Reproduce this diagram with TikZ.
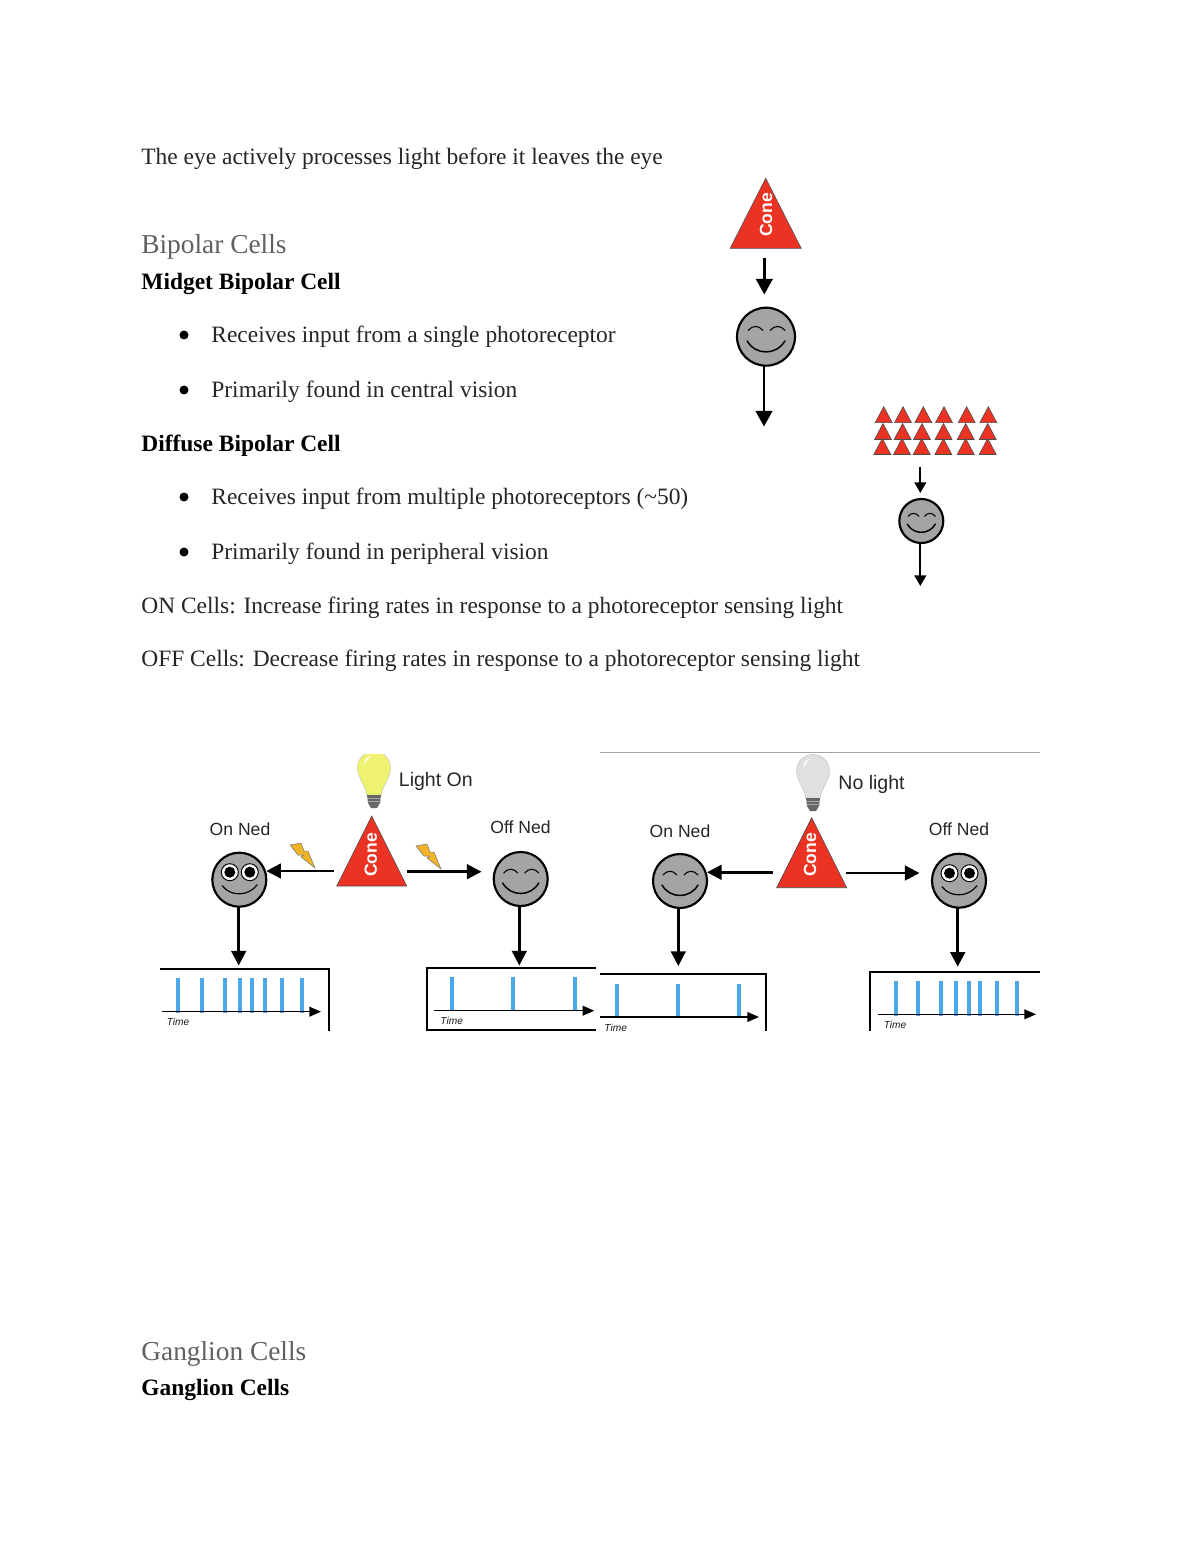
\documentclass[tikz,border=0pt]{standalone}
\usepackage{fontspec}
\setmainfont{Liberation Serif}
\newfontfamily\arialf{Liberation Sans}
\usetikzlibrary{arrows.meta,shapes.geometric}
\def\pxu{0.51bp}
\definecolor{conered}{HTML}{EA3323}
\definecolor{facegray}{HTML}{A4A4A4}
\definecolor{spikeblue}{HTML}{4AA8E8}
\definecolor{headgray}{HTML}{606060}
\definecolor{boltyellow}{HTML}{F0B429}
\definecolor{lampyellow}{HTML}{EEF26E}
\tikzset{
  bodytext/.style={anchor=base west,inner sep=0pt,yshift=-0.75pt,font=\fontsize{12}{14}\selectfont,text=black!85},
  boldtext/.style={bodytext,font=\fontsize{12}{14}\selectfont\bfseries,text=black},
  headtext/.style={bodytext,font=\fontsize{14}{16}\selectfont,text=headgray},
  dotmark/.style={circle,fill=black,inner sep=0pt,minimum size=9*\pxu},
  label/.style={inner sep=0pt,font=\arialf\fontsize{9}{11}\selectfont,text=black!85},
  lamplabel/.style={inner sep=0pt,anchor=west,font=\arialf\fontsize{10}{12}\selectfont,text=black!85},
  timetext/.style={inner sep=0pt,font=\arialf\itshape\fontsize{5.2}{6}\selectfont,text=black!90},
  conetext/.style={inner sep=0pt,rotate=90,text=white,font=\arialf\bfseries\fontsize{9}{11}\selectfont},
  conebox/.style 2 args={isosceles triangle,isosceles triangle stretches=true,shape border rotate=90,
     draw=black!70,line width=0.3pt,fill=conered,inner sep=0pt,outer sep=0pt,anchor=apex,
     minimum width=#1*\pxu,minimum height=#2*\pxu},
  nedbox/.style={circle,draw=black,line width=1.1pt,fill=facegray,inner sep=0pt,outer sep=0pt,minimum size=#1*\pxu},
  arrbig/.style={draw=black,line width=1.4pt,-{Triangle[length=8pt,width=8.5pt]}},
  arrmid/.style={draw=black,line width=1.4pt,-{Triangle[length=7.5pt,width=7.5pt]}},
  arrsmall/.style={draw=black,line width=1.1pt,-{Triangle[length=5.5pt,width=6pt]}},
  boxline/.style={draw=black,line width=0.9pt},
  axisline/.style={draw=black,line width=0.8pt,-{Triangle[length=6pt,width=5pt]}},
  spike/.style={draw=spikeblue,line width=2pt},
  smileface/.pic={
    \draw[line width=0.55pt,line cap=round] (-17,-6) .. controls (-13,-11) and (-7,-11) .. (-3,-6);
    \draw[line width=0.55pt,line cap=round] (4,-6) .. controls (8,-11) and (14,-11) .. (18,-6);
    \draw[line width=0.75pt,line cap=round] (-18,4) .. controls (-10,18) and (10,18) .. (18,4);
  },
  eyesface/.pic={
    \draw[line width=0.6pt,line cap=round] (-17,6) .. controls (-9,17) and (9,17) .. (18,5);
    \foreach \ex in {-9.5,10.5}{
      \fill[white,draw=black,line width=0.5pt] (\ex,-7.5) circle (8.5);
      \fill[black] (\ex,-7.5) circle (5.5);
    }
  },
  bulbpic/.pic={
    \fill[pic actions,draw=black!25,line width=0.2pt] (-7.5,27) .. controls (-8,18) and (-16.5,10) .. (-16.5,0)
      .. controls (-16.5,-10) and (-9,-16.5) .. (0,-16.5)
      .. controls (9,-16.5) and (16.5,-10) .. (16.5,0)
      .. controls (16.5,10) and (8,18) .. (7.5,27) -- cycle;
    \fill[white,opacity=0.85] (-10,-3) .. controls (-10,-9) and (-6,-12) .. (-3,-12) .. controls (-6,-9) and (-8,-6) .. (-10,-3) -- cycle;
    \fill[black!60] (-7,27) -- (7,27) -- (6,35) -- (3,40) -- (-3,40) -- (-6,35) -- cycle;
    \draw[black!35,line width=0.4pt] (-7,30) -- (7,30) (-6.5,33.5) -- (6.5,33.5);
  },
  boltpic/.pic={
    \fill[boltyellow,draw=black!55,line width=0.25pt] (0,2) -- (11,0) -- (14,8) -- (18,8) -- (25,25) -- (11,14) -- (14,12) -- (8,12) -- cycle;
  }
}
\begin{document}
\begin{tikzpicture}[x=0.51bp,y=-0.51bp]
\useasboundingbox (0,0) rectangle (1200,1553);
\fill[white] (0,0) rectangle (1200,1553);

% text
\node[bodytext] (t1) at (141,163) {The eye actively processes light before it leaves the eye};
\node[headtext] (t2) at (141,252) {Bipolar Cells};
\node[boldtext] (t3) at (141,288) {Midget Bipolar Cell};
\node[dotmark] (b1) at (184,335) {};
\node[bodytext] (t4) at (211,341) {Receives input from a single photoreceptor};
\node[dotmark] (b2) at (184,390) {};
\node[bodytext] (t5) at (211,396) {Primarily found in central vision};
\node[boldtext] (t6) at (141,450) {Diffuse Bipolar Cell};
\node[dotmark] (b3) at (184,497) {};
\node[bodytext] (t7) at (211,503) {Receives input from multiple photoreceptors (\textasciitilde50)};
\node[dotmark] (b4) at (184,552) {};
\node[bodytext] (t8) at (211,558) {Primarily found in peripheral vision};
\node[bodytext] (t9) at (141,612) {ON Cells: Increase firing rates in response to a photoreceptor sensing light};
\node[bodytext] (t10) at (141,665) {OFF Cells: Decrease firing rates in response to a photoreceptor sensing light};
\node[headtext] (t11) at (141,1359) {Ganglion Cells};
\node[boldtext] (t12) at (141,1394) {Ganglion Cells};

% midget diagram
\node[conebox={71}{70}] (c0) at (765.7,178.3) {};
\node[conetext] (c0t) at (766,215) {Cone};
\coordinate (m0a) at (764.3,258);
\coordinate (m0b) at (764.3,294.5);
\draw[arrbig] (m0a) -- (m0b);
\node[nedbox=58] (n0) at (766,336.7) {};
\pic at (n0.center) [scale=1.05] {smileface};
\coordinate (m0c) at (764,426.5);
\draw[arrbig] (n0.south -| m0c) -- (m0c);

% diffuse diagram
\foreach \cx [count=\ci] in {883.7,903,923.3,944,966.7,988.3}
  \node[conebox={17}{16}] (ma\ci) at (\cx,406.7) {};
\foreach \cx [count=\ci] in {883,902.6,922,943.5,965.7,987.7}
  \node[conebox={17}{16}] (mb\ci) at (\cx,423.5) {};
\foreach \cx [count=\ci] in {882.3,902,921.7,943.3,965.7,987.7}
  \node[conebox={17}{16}] (mc\ci) at (\cx,438.5) {};
\coordinate (d0a) at (920.3,466.5);
\coordinate (d0b) at (920.3,493);
\draw[arrsmall] (d0a) -- (d0b);
\node[nedbox=44] (n9) at (921.3,521) {};
\pic at (n9.center) [scale=0.78] {smileface};
\coordinate (d0c) at (920.3,586);
\draw[arrsmall] (n9.south -| d0c) -- (d0c);

% Light On
\begin{scope}
\clip (340,754) rectangle (410,812);
\pic[fill=lampyellow] at (374,768) {bulbpic};
\end{scope}
\node[lamplabel] (lamp1) at (398.5,781.5) {Light On};
\node[conebox={70}{70}] (c1) at (371.7,816) {};
\node[conetext] (c1t) at (370.7,855) {Cone};
\node[label] (l1) at (240,829) {On Ned};
\node[label] (l2) at (520.5,827.5) {Off Ned};
\node[nedbox=54] (n1) at (239.3,879.7) {};
\pic at (n1.center) {eyesface};
\node[nedbox=54] (n2) at (520.7,879) {};
\pic at (n2.center) {smileface};
\pic at (290,843) {boltpic};
\pic at (416,844) {boltpic};
\coordinate (a1) at (334,871);
\draw[arrmid] (a1) -- (a1 -| n1.east);
\coordinate (a2) at (406.7,871.7);
\coordinate (a2e) at (481.5,871.7);
\draw[arrmid] (a2) -- (a2e);
\coordinate (a3) at (238.7,965.5);
\draw[arrmid] (n1.south -| a3) -- (a3);
\coordinate (a4) at (519.3,965.5);
\draw[arrmid] (n2.south -| a4) -- (a4);

% No light
\draw[black!35,line width=0.6pt] (600,752.7) -- (1040,752.7);
\pic[fill=black!12] at (813,771) {bulbpic};
\node[lamplabel] (lamp2) at (838,784.5) {No light};
\node[conebox={70}{70}] (c2) at (811.7,817.7) {};
\node[conetext] (c2t) at (810,855) {Cone};
\node[label] (l3) at (680,831) {On Ned};
\node[label] (l4) at (959,829.5) {Off Ned};
\node[nedbox=54] (n3) at (680,881) {};
\pic at (n3.center) {smileface};
\node[nedbox=54] (n4) at (959,880.7) {};
\pic at (n4.center) {eyesface};
\coordinate (a5) at (773,872.3);
\draw[arrmid] (a5) -- (a5 -| n3.east);
\coordinate (a6) at (845.7,873);
\coordinate (a6e) at (919.5,873);
\draw[arrmid] (a6) -- (a6e);
\coordinate (a7) at (678.3,966);
\draw[arrmid] (n3.south -| a7) -- (a7);
\coordinate (a8) at (957.7,966.7);
\draw[arrmid] (n4.south -| a8) -- (a8);

% spike boxes
\begin{scope}
\clip (150,950) rectangle (1045,1030.5);
\draw[boxline] (160,969) -- (329,969) -- (329,1031);
\foreach \sx in {178.3,202.3,225,240,252.3,264.7,281.7,301.7}
  \draw[spike] (\sx,978) -- (\sx,1012.5);
\coordinate (s1a) at (161.7,1011.7); \coordinate (s1b) at (321,1011.7);
\draw[axisline] (s1a) -- (s1b);
\node[timetext] (tm1) at (178,1022) {Time};

\draw[boxline] (595.7,967.7) -- (427.3,967.7) -- (427.3,1029.7) -- (595.7,1029.7);
\foreach \sx in {452.3,513.3,575}
  \draw[spike] (\sx,976.7) -- (\sx,1011);
\coordinate (s2a) at (434.3,1010.7); \coordinate (s2b) at (594.3,1010.7);
\draw[axisline] (s2a) -- (s2b);
\node[timetext] (tm2) at (451.7,1021) {Time};

\draw[boxline] (600,974.3) -- (766,974.3) -- (766,1031);
\foreach \sx in {616.7,677.7,738.7}
  \draw[spike] (\sx,984) -- (\sx,1017.5);
\coordinate (s3a) at (600,1017); \coordinate (s3b) at (759,1017);
\draw[axisline] (s3a) -- (s3b);
\node[timetext] (tm3) at (615.7,1027.5) {Time};

\draw[boxline] (870.3,1031) -- (870.3,972.3) -- (1040,972.3);
\foreach \sx in {895.7,918,940.7,956.3,968.7,980.3,997.3,1017.3}
  \draw[spike] (\sx,981) -- (\sx,1015.5);
\coordinate (s4a) at (878.3,1014.3); \coordinate (s4b) at (1036,1014.3);
\draw[axisline] (s4a) -- (s4b);
\node[timetext] (tm4) at (895,1025) {Time};
\end{scope}
\end{tikzpicture}
\end{document}
